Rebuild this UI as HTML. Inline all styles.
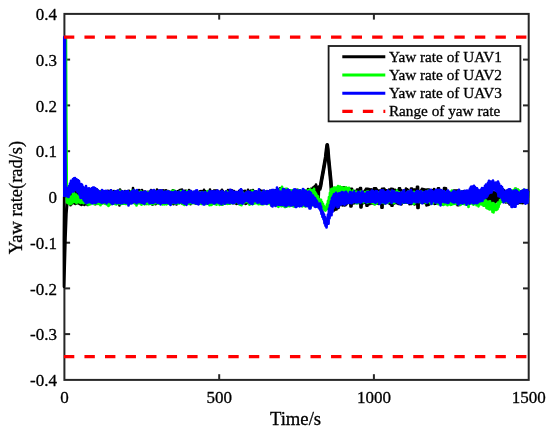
<!DOCTYPE html>
<html><head><meta charset="utf-8"><title>Yaw rate</title>
<style>
html,body{margin:0;padding:0;background:#fff;}
body{width:550px;height:433px;overflow:hidden;}
svg{display:block;}
text{font-family:"Liberation Serif","Times New Roman",serif;fill:#000;stroke:#000;stroke-width:0.3px;}
.tick{font-size:17px;}
.lab{font-size:18.7px;}
.leg{font-size:15.25px;fill:#000;}
.sig{fill:none;stroke-linejoin:round;stroke-linecap:butt;}
</style></head><body>
<svg width="550" height="433" viewBox="0 0 550 433">
<rect width="550" height="433" fill="#ffffff"/>
<!-- axes box -->
<g stroke="#262626" stroke-width="2" fill="none">
<rect x="64.4" y="13.9" width="464.3" height="366.0"/>
<line x1="219.2" y1="379.9" x2="219.2" y2="374.2"/>
<line x1="219.2" y1="13.9" x2="219.2" y2="19.6"/>
<line x1="373.9" y1="379.9" x2="373.9" y2="374.2"/>
<line x1="373.9" y1="13.9" x2="373.9" y2="19.6"/>
<line x1="64.4" y1="59.6" x2="70.1" y2="59.6"/>
<line x1="528.7" y1="59.6" x2="523.0" y2="59.6"/>
<line x1="64.4" y1="105.4" x2="70.1" y2="105.4"/>
<line x1="528.7" y1="105.4" x2="523.0" y2="105.4"/>
<line x1="64.4" y1="151.2" x2="70.1" y2="151.2"/>
<line x1="528.7" y1="151.2" x2="523.0" y2="151.2"/>
<line x1="64.4" y1="196.9" x2="70.1" y2="196.9"/>
<line x1="528.7" y1="196.9" x2="523.0" y2="196.9"/>
<line x1="64.4" y1="242.7" x2="70.1" y2="242.7"/>
<line x1="528.7" y1="242.7" x2="523.0" y2="242.7"/>
<line x1="64.4" y1="288.4" x2="70.1" y2="288.4"/>
<line x1="528.7" y1="288.4" x2="523.0" y2="288.4"/>
<line x1="64.4" y1="334.1" x2="70.1" y2="334.1"/>
<line x1="528.7" y1="334.1" x2="523.0" y2="334.1"/>
</g>
<!-- signals -->
<polyline class="sig" stroke="#000000" stroke-width="2.7" points="64.2,196.7 63.9,240.0 64.0,286.8 64.6,270.0 65.5,238.0 66.4,214.0 67.2,204.0 68.0,197.0 68.0,194.0 68.5,201.9 69.0,193.6 69.5,203.0 70.0,191.5 70.5,205.2 71.0,192.0 71.5,204.1 72.0,191.9 72.5,202.8 73.0,192.4 73.5,202.8 74.0,192.3 74.5,203.5 75.0,191.8 75.5,204.0 76.0,192.2 76.5,203.4 77.0,191.7 77.5,202.3 78.0,190.8 78.5,203.2 79.0,190.7 79.5,204.0 80.0,189.8 80.5,204.5 81.0,190.0 81.5,204.9 82.0,190.3 82.5,204.0 83.0,191.7 83.5,204.3 84.0,191.4 84.5,205.0 85.0,192.0 85.5,203.3 86.0,192.2 86.5,203.1 87.0,191.6 87.5,204.9 88.0,191.7 88.5,203.2 89.0,191.8 89.5,203.7 90.0,190.2 90.5,202.7 91.0,190.0 91.5,202.2 92.0,191.5 92.5,202.6 93.0,192.6 93.5,202.4 94.0,192.7 94.5,203.0 95.0,192.0 95.5,204.1 96.0,190.0 96.5,202.7 97.0,189.5 97.5,202.1 98.0,191.2 98.5,202.4 99.0,191.3 99.5,202.5 100.0,191.3 100.5,203.1 101.0,191.6 101.5,202.2 102.0,191.8 102.5,203.1 103.0,192.2 103.5,202.7 104.0,192.0 104.5,201.5 105.0,191.4 105.5,202.0 106.0,191.5 106.5,203.2 107.0,191.5 107.5,202.7 108.0,190.9 108.5,201.9 109.0,191.2 109.5,202.0 110.0,191.6 110.5,203.2 111.0,190.4 111.5,204.0 112.0,191.9 112.5,203.2 113.0,192.6 113.5,201.9 114.0,191.2 114.5,202.2 115.0,192.6 115.5,203.5 116.0,191.4 116.5,202.2 117.0,191.1 117.5,202.9 118.0,191.0 118.5,202.7 119.0,191.5 119.5,205.5 120.0,189.6 120.5,203.3 121.0,190.9 121.5,203.0 122.0,191.3 122.5,203.2 123.0,192.3 123.5,201.5 124.0,193.1 124.5,202.8 125.0,191.1 125.5,203.4 126.0,192.4 126.5,203.4 127.0,191.8 127.5,202.0 128.0,191.1 128.5,202.1 129.0,190.9 129.5,202.4 130.0,191.7 130.5,201.8 131.0,192.0 131.5,201.5 132.0,191.1 132.5,201.9 133.0,188.2 133.5,202.5 134.0,190.9 134.5,201.4 135.0,192.1 135.5,201.7 136.0,193.0 136.5,203.6 137.0,192.4 137.5,203.3 138.0,190.7 138.5,201.4 139.0,190.2 139.5,202.4 140.0,190.5 140.5,203.3 141.0,191.0 141.5,202.3 142.0,190.0 142.5,201.0 143.0,191.6 143.5,201.8 144.0,191.8 144.5,202.2 145.0,191.5 145.5,203.0 146.0,193.4 146.5,204.0 147.0,193.3 147.5,203.0 148.0,191.9 148.5,202.3 149.0,192.2 149.5,203.7 150.0,191.6 150.5,202.6 151.0,190.2 151.5,201.7 152.0,190.5 152.5,204.7 153.0,191.3 153.5,203.4 154.0,192.2 154.5,201.3 155.0,191.8 155.5,204.2 156.0,191.0 156.5,203.4 157.0,189.6 157.5,202.0 158.0,191.4 158.5,201.6 159.0,190.8 159.5,202.0 160.0,190.6 160.5,202.8 161.0,190.7 161.5,202.9 162.0,190.9 162.5,201.8 163.0,190.4 163.5,202.4 164.0,191.6 164.5,202.5 165.0,190.5 165.5,202.1 166.0,190.4 166.5,202.0 167.0,190.9 167.5,201.1 168.0,191.2 168.5,202.3 169.0,191.6 169.5,203.5 170.0,192.3 170.5,203.7 171.0,192.3 171.5,203.6 172.0,191.9 172.5,203.4 173.0,190.4 173.5,204.1 174.0,191.3 174.5,203.5 175.0,191.0 175.5,203.0 176.0,192.7 176.5,204.4 177.0,191.8 177.5,202.7 178.0,191.2 178.5,202.7 179.0,190.5 179.5,202.6 180.0,190.2 180.5,202.6 181.0,189.8 181.5,202.9 182.0,189.5 182.5,203.6 183.0,191.9 183.5,203.9 184.0,192.4 184.5,203.5 185.0,190.9 185.5,203.0 186.0,190.8 186.5,203.1 187.0,191.4 187.5,202.2 188.0,191.2 188.5,201.4 189.0,190.0 189.5,202.7 190.0,190.9 190.5,204.1 191.0,192.4 191.5,201.4 192.0,192.2 192.5,200.7 193.0,192.6 193.5,201.8 194.0,192.5 194.5,202.0 195.0,192.7 195.5,203.4 196.0,192.6 196.5,202.6 197.0,192.2 197.5,201.3 198.0,192.2 198.5,201.9 199.0,191.9 199.5,203.5 200.0,191.3 200.5,202.3 201.0,191.1 201.5,202.8 202.0,191.5 202.5,202.1 203.0,191.0 203.5,202.2 204.0,189.8 204.5,202.0 205.0,191.2 205.5,201.4 206.0,191.8 206.5,200.7 207.0,191.8 207.5,201.5 208.0,192.3 208.5,202.2 209.0,191.8 209.5,203.3 210.0,189.7 210.5,204.3 211.0,192.0 211.5,202.6 212.0,191.6 212.5,202.5 213.0,191.1 213.5,201.0 214.0,190.7 214.5,201.2 215.0,190.6 215.5,202.6 216.0,190.6 216.5,202.8 217.0,190.5 217.5,201.7 218.0,191.0 218.5,201.5 219.0,192.3 219.5,200.8 220.0,191.8 220.5,200.5 221.0,190.8 221.5,202.0 222.0,189.8 222.5,204.1 223.0,191.2 223.5,202.9 224.0,192.3 224.5,202.4 225.0,192.4 225.5,203.2 226.0,191.5 226.5,203.0 227.0,191.0 227.5,202.9 228.0,190.2 228.5,202.9 229.0,191.5 229.5,203.7 230.0,193.0 230.5,202.7 231.0,190.1 231.5,202.7 232.0,190.4 232.5,202.5 233.0,192.1 233.5,203.2 234.0,191.2 234.5,202.9 235.0,192.0 235.5,203.1 236.0,192.1 236.5,204.0 237.0,192.3 237.5,203.4 238.0,192.2 238.5,202.4 239.0,191.2 239.5,200.6 240.0,190.0 240.5,202.6 241.0,189.6 241.5,203.2 242.0,191.7 242.5,202.8 243.0,192.3 243.5,201.4 244.0,191.0 244.5,201.7 245.0,190.9 245.5,203.9 246.0,193.5 246.5,203.4 247.0,192.5 247.5,202.4 248.0,189.9 248.5,202.5 249.0,191.5 249.5,203.6 250.0,191.4 250.5,202.3 251.0,190.5 251.5,203.3 252.0,191.1 252.5,203.1 253.0,190.2 253.5,201.4 254.0,191.7 254.5,202.1 255.0,192.0 255.5,201.0 256.0,191.4 256.5,201.0 257.0,192.4 257.5,202.0 258.0,192.3 258.5,202.0 259.0,191.0 259.5,203.4 260.0,190.2 260.5,202.9 261.0,191.3 261.5,202.5 262.0,190.9 262.5,202.7 263.0,191.6 263.5,202.1 264.0,191.0 264.5,200.7 265.0,191.4 265.5,202.4 266.0,192.1 266.5,202.9 267.0,192.4 267.5,202.7 268.0,191.6 268.5,202.1 269.0,191.3 269.5,202.0 270.0,190.8 270.5,202.1 271.0,191.3 271.5,203.2 272.0,191.6 272.5,202.4 273.0,192.7 273.5,201.9 274.0,193.0 274.5,202.7 275.0,191.5 275.5,202.7 276.0,190.3 276.5,203.6 277.0,191.1 277.5,203.4 278.0,190.3 278.5,202.4 279.0,190.3 279.5,201.8 280.0,188.3 280.5,202.2 281.0,190.6 281.5,203.5 282.0,191.7 282.5,203.4 283.0,191.6 283.5,202.6 284.0,190.9 284.5,203.1 285.0,190.5 285.5,203.6 286.0,191.6 286.5,202.4 287.0,190.7 287.5,202.7 288.0,190.0 288.5,202.5 289.0,190.8 289.5,202.6 290.0,190.7 290.5,203.0 291.0,192.2 291.5,203.6 292.0,191.3 292.5,203.5 293.0,191.0 293.5,204.2 294.0,191.5 294.5,203.6 295.0,192.7 295.5,205.9 296.0,191.2 296.5,204.6 297.0,189.8 297.5,202.0 298.0,191.0 298.5,202.2 299.0,192.2 299.5,203.0 300.0,190.4 300.5,202.4 301.0,191.1 301.5,201.8 302.0,191.6 302.5,201.8 303.0,191.3 303.5,202.5 304.0,191.8 304.5,202.1 305.0,191.9 305.5,203.2 306.0,191.0 306.5,202.7 307.0,190.8 307.5,202.3 308.0,189.2 308.5,202.7 309.0,190.0 309.5,202.1 310.0,189.7 310.5,200.0 311.0,188.9 311.5,200.9 312.0,189.3 312.5,201.3 313.0,187.5 313.5,202.6 314.0,186.8 314.5,203.0 315.0,186.0 315.5,200.9 316.0,184.6 316.5,201.5 317.0,186.8 317.5,201.1 318.0,186.9 318.5,201.8 319.0,186.6 319.5,190.0 320.6,186.0 321.4,181.0 323.6,169.0 325.7,157.0 326.6,149.0 327.2,144.8 327.8,149.0 328.5,158.0 329.7,170.0 330.8,181.0 331.6,192.0 332.6,203.0 334.0,210.5 334.0,202.2 334.5,210.0 335.0,199.1 335.5,209.5 336.0,194.7 336.5,209.5 337.0,192.0 337.5,208.0 338.0,192.0 338.5,207.9 339.0,191.7 339.5,205.4 340.0,189.5 340.5,204.3 341.0,190.5 341.5,204.3 342.0,187.6 342.5,205.4 343.0,187.5 343.5,205.1 344.0,187.4 344.5,205.5 345.0,189.9 345.5,205.1 346.0,189.6 346.5,204.1 347.0,189.7 347.5,202.5 348.0,190.2 348.5,202.8 349.0,190.2 349.5,203.0 350.0,189.4 350.5,206.5 351.0,188.9 351.5,206.3 352.0,188.9 352.5,202.9 353.0,191.0 353.5,203.3 354.0,191.2 354.5,203.1 355.0,191.0 355.5,201.5 356.0,191.0 356.5,202.7 357.0,189.7 357.5,203.0 358.0,189.5 358.5,201.9 359.0,190.6 359.5,203.1 360.0,188.2 360.5,207.3 361.0,188.2 361.5,207.3 362.0,192.5 362.5,203.7 363.0,192.5 363.5,202.7 364.0,191.6 364.5,202.8 365.0,190.3 365.5,201.0 366.0,188.9 366.5,205.6 367.0,188.9 367.5,205.6 368.0,188.9 368.5,203.8 369.0,189.2 369.5,204.2 370.0,190.7 370.5,203.3 371.0,189.4 371.5,203.3 372.0,190.5 372.5,203.3 373.0,189.5 373.5,201.1 374.0,188.4 374.5,204.0 375.0,188.4 375.5,204.0 376.0,188.4 376.5,203.4 377.0,189.7 377.5,203.6 378.0,190.5 378.5,203.8 379.0,190.6 379.5,203.1 380.0,190.5 380.5,202.9 381.0,190.7 381.5,207.6 382.0,188.9 382.5,207.6 383.0,188.9 383.5,203.0 384.0,188.5 384.5,203.2 385.0,189.7 385.5,203.1 386.0,190.0 386.5,202.7 387.0,190.7 387.5,201.7 388.0,190.8 388.5,202.4 389.0,189.6 389.5,203.7 390.0,190.9 390.5,204.2 391.0,188.9 391.5,205.7 392.0,188.9 392.5,205.7 393.0,189.0 393.5,203.5 394.0,190.8 394.5,203.3 395.0,189.8 395.5,202.6 396.0,190.5 396.5,203.0 397.0,192.0 397.5,203.4 398.0,190.0 398.5,203.9 399.0,188.3 399.5,203.9 400.0,188.3 400.5,203.2 401.0,190.0 401.5,204.3 402.0,190.6 402.5,202.6 403.0,190.9 403.5,202.1 404.0,190.6 404.5,202.6 405.0,190.0 405.5,202.6 406.0,188.6 406.5,202.4 407.0,189.2 407.5,202.5 408.0,189.9 408.5,202.1 409.0,191.3 409.5,204.1 410.0,191.3 410.5,203.9 411.0,188.5 411.5,203.9 412.0,188.5 412.5,202.7 413.0,190.1 413.5,203.2 414.0,189.6 414.5,204.3 415.0,189.5 415.5,203.9 416.0,190.4 416.5,204.2 417.0,186.9 417.5,207.9 418.0,186.9 418.5,207.9 419.0,191.8 419.5,202.3 420.0,191.8 420.5,202.0 421.0,190.3 421.5,202.4 422.0,188.8 422.5,203.0 423.0,189.0 423.5,202.3 424.0,189.3 424.5,203.0 425.0,189.7 425.5,202.9 426.0,191.0 426.5,205.5 427.0,189.5 427.5,204.8 428.0,189.5 428.5,204.8 429.0,189.5 429.5,204.3 430.0,191.5 430.5,202.9 431.0,190.8 431.5,202.5 432.0,190.6 432.5,201.7 433.0,190.2 433.5,201.9 434.0,189.0 434.5,203.9 435.0,190.5 435.5,203.6 436.0,190.7 436.5,202.9 437.0,190.9 437.5,203.2 438.0,188.3 438.5,203.3 439.0,188.3 439.5,203.3 440.0,190.6 440.5,202.5 441.0,191.5 441.5,202.6 442.0,191.5 442.5,204.4 443.0,191.1 443.5,203.5 444.0,188.2 444.5,203.7 445.0,188.2 445.5,203.7 446.0,188.3 446.5,203.8 447.0,191.2 447.5,202.8 448.0,192.1 448.5,202.5 449.0,192.3 449.5,202.3 450.0,192.5 450.5,203.0 451.0,192.3 451.5,203.1 452.0,191.5 452.5,203.3 453.0,191.1 453.5,203.1 454.0,190.5 454.5,202.3 455.0,190.5 455.5,201.8 456.0,190.5 456.5,203.1 457.0,190.6 457.5,205.2 458.0,190.6 458.5,205.2 459.0,190.6 459.5,203.3 460.0,192.3 460.5,201.6 461.0,193.4 461.5,202.6 462.0,193.4 462.5,203.1 463.0,191.3 463.5,203.3 464.0,191.0 464.5,201.8 465.0,192.5 465.5,202.3 466.0,191.9 466.5,203.9 467.0,192.2 467.5,202.6 468.0,192.9 468.5,203.3 469.0,191.0 469.5,202.8 470.0,190.3 470.5,202.7 471.0,191.2 471.5,202.3 472.0,191.6 472.5,202.6 473.0,191.2 473.5,201.9 474.0,193.0 474.5,202.1 475.0,192.8 475.5,203.7 476.0,191.5 476.5,202.4 477.0,191.1 477.5,201.3 478.0,192.1 478.5,202.8 479.0,191.7 479.5,203.5 480.0,191.0 480.5,202.9 481.0,191.4 481.5,202.2 482.0,192.7 482.5,202.0 483.0,192.8 483.5,202.6 484.0,191.2 484.5,202.3 485.0,191.2 485.5,202.1 486.0,192.5 486.5,202.5 487.0,192.0 487.5,201.6 488.0,193.3 488.5,200.7 489.0,193.5 489.5,200.7 490.0,191.4 490.5,202.1 491.0,190.2 491.5,200.7 492.0,190.4 492.5,201.1 493.0,192.7 493.5,200.8 494.0,192.3 494.5,201.7 495.0,192.2 495.5,202.3 496.0,191.9 496.5,201.0 497.0,190.7 497.5,201.0 498.0,191.8 498.5,200.5 499.0,192.7 499.5,201.0 500.0,192.5 500.5,200.4 501.0,191.5 501.5,199.9 502.0,190.6 502.5,200.6 503.0,190.4 503.5,200.9 504.0,190.4 504.5,201.2 505.0,191.1 505.5,202.3 506.0,192.4 506.5,202.1 507.0,190.9 507.5,202.5 508.0,190.8 508.5,202.4 509.0,191.2 509.5,204.3 510.0,191.4 510.5,203.6 511.0,191.5 511.5,203.4 512.0,191.0 512.5,203.1 513.0,191.8 513.5,202.8 514.0,190.4 514.5,202.9 515.0,190.3 515.5,203.0 516.0,188.8 516.5,202.3 517.0,190.6 517.5,203.1 518.0,190.1 518.5,203.1 519.0,192.1 519.5,202.5 520.0,192.3 520.5,202.8 521.0,192.3 521.5,203.0 522.0,191.6 522.5,203.2 523.0,190.6 523.5,203.0 524.0,190.3 524.5,202.4 525.0,190.4 525.5,202.1 526.0,191.8 526.5,202.0 527.0,191.1 527.5,202.8 528.0,190.6"/>
<polyline class="sig" stroke="#000000" stroke-width="3.7" points="319.5,190.0 320.6,186.0 321.4,181.0 323.6,169.0 325.7,157.0 326.6,149.0 327.2,144.8 327.8,149.0 328.5,158.0 329.7,170.0 330.8,181.0 331.6,192.0 332.6,203.0 334.0,210.5"/>
<polyline class="sig" stroke="#00ff00" stroke-width="2.7" points="64.9,37.2 65.9,37.2 66.3,120.0 66.8,196.0 67.0,202.2 67.5,202.8 68.0,200.7 68.5,203.0 69.0,198.6 69.5,204.1 70.0,196.5 70.5,204.0 71.0,196.5 71.5,203.3 72.0,196.3 72.5,202.4 73.0,192.4 73.5,201.8 74.0,193.1 74.5,201.3 75.0,195.5 75.5,201.9 76.0,194.6 76.5,203.1 77.0,195.7 77.5,202.0 78.0,195.8 78.5,201.6 79.0,197.5 79.5,202.4 80.0,199.4 80.5,202.9 81.0,200.0 81.5,202.5 82.0,198.0 82.5,202.5 83.0,195.8 83.5,203.1 84.0,195.3 84.5,202.3 85.0,194.6 85.5,202.2 86.0,194.1 86.5,202.9 87.0,194.2 87.5,203.8 88.0,194.0 88.5,205.0 89.0,192.7 89.5,203.5 90.0,192.0 90.5,204.1 91.0,192.9 91.5,202.9 92.0,193.6 92.5,202.6 93.0,194.3 93.5,203.1 94.0,193.0 94.5,204.1 95.0,192.1 95.5,202.8 96.0,192.4 96.5,203.2 97.0,192.0 97.5,203.8 98.0,192.2 98.5,202.2 99.0,193.2 99.5,204.1 100.0,191.6 100.5,205.1 101.0,192.5 101.5,203.7 102.0,192.0 102.5,202.7 103.0,192.7 103.5,202.1 104.0,192.9 104.5,203.4 105.0,193.6 105.5,203.9 106.0,191.7 106.5,203.7 107.0,192.6 107.5,204.9 108.0,193.8 108.5,206.0 109.0,192.6 109.5,205.0 110.0,193.8 110.5,203.2 111.0,193.2 111.5,203.4 112.0,191.9 112.5,203.8 113.0,192.4 113.5,203.5 114.0,192.9 114.5,202.8 115.0,192.0 115.5,204.1 116.0,192.3 116.5,204.3 117.0,191.6 117.5,203.2 118.0,192.5 118.5,203.0 119.0,191.2 119.5,203.7 120.0,190.9 120.5,204.3 121.0,193.8 121.5,203.3 122.0,193.6 122.5,203.6 123.0,193.1 123.5,203.6 124.0,193.0 124.5,202.6 125.0,193.1 125.5,204.0 126.0,191.9 126.5,203.9 127.0,192.1 127.5,202.9 128.0,192.2 128.5,202.2 129.0,194.0 129.5,203.6 130.0,193.8 130.5,203.0 131.0,191.3 131.5,201.9 132.0,190.8 132.5,201.8 133.0,191.4 133.5,202.9 134.0,191.2 134.5,203.2 135.0,190.9 135.5,203.9 136.0,192.9 136.5,205.5 137.0,193.2 137.5,203.7 138.0,192.0 138.5,202.7 139.0,193.1 139.5,202.2 140.0,191.9 140.5,203.6 141.0,191.4 141.5,204.6 142.0,192.6 142.5,203.0 143.0,192.6 143.5,202.7 144.0,193.4 144.5,204.3 145.0,193.3 145.5,203.8 146.0,192.6 146.5,202.0 147.0,193.0 147.5,203.8 148.0,192.4 148.5,204.1 149.0,193.1 149.5,204.0 150.0,192.7 150.5,203.4 151.0,192.5 151.5,204.0 152.0,192.6 152.5,204.1 153.0,193.1 153.5,204.0 154.0,192.2 154.5,203.2 155.0,192.4 155.5,203.2 156.0,191.9 156.5,202.9 157.0,193.1 157.5,202.8 158.0,193.4 158.5,203.7 159.0,192.6 159.5,203.3 160.0,192.8 160.5,203.0 161.0,191.6 161.5,203.0 162.0,192.6 162.5,204.4 163.0,191.9 163.5,203.6 164.0,192.4 164.5,204.3 165.0,193.3 165.5,203.6 166.0,192.6 166.5,204.3 167.0,191.5 167.5,203.6 168.0,191.3 168.5,203.2 169.0,193.2 169.5,202.6 170.0,192.6 170.5,203.4 171.0,191.9 171.5,203.4 172.0,190.9 172.5,203.2 173.0,191.8 173.5,202.0 174.0,190.6 174.5,202.8 175.0,191.5 175.5,203.7 176.0,191.8 176.5,203.0 177.0,192.6 177.5,203.3 178.0,192.6 178.5,203.4 179.0,192.2 179.5,203.3 180.0,191.7 180.5,201.7 181.0,191.2 181.5,202.1 182.0,192.6 182.5,203.8 183.0,194.1 183.5,204.1 184.0,193.9 184.5,205.0 185.0,194.0 185.5,203.7 186.0,192.0 186.5,203.6 187.0,191.1 187.5,203.2 188.0,192.1 188.5,203.8 189.0,192.8 189.5,203.4 190.0,192.3 190.5,202.7 191.0,192.0 191.5,203.3 192.0,192.0 192.5,202.5 193.0,192.9 193.5,203.1 194.0,193.7 194.5,203.0 195.0,192.2 195.5,203.1 196.0,192.3 196.5,203.5 197.0,193.0 197.5,203.2 198.0,192.6 198.5,202.9 199.0,193.9 199.5,202.5 200.0,192.5 200.5,203.3 201.0,192.3 201.5,204.0 202.0,193.0 202.5,203.4 203.0,192.6 203.5,202.8 204.0,193.1 204.5,203.8 205.0,192.5 205.5,203.7 206.0,192.7 206.5,203.8 207.0,191.6 207.5,202.9 208.0,191.2 208.5,203.9 209.0,192.3 209.5,205.1 210.0,192.1 210.5,203.9 211.0,192.4 211.5,205.0 212.0,192.6 212.5,204.0 213.0,193.1 213.5,203.5 214.0,192.3 214.5,204.0 215.0,192.9 215.5,203.7 216.0,193.5 216.5,204.7 217.0,194.0 217.5,202.7 218.0,193.4 218.5,202.4 219.0,192.9 219.5,204.8 220.0,193.3 220.5,202.4 221.0,193.4 221.5,204.4 222.0,193.2 222.5,204.7 223.0,193.0 223.5,203.6 224.0,192.7 224.5,203.1 225.0,192.8 225.5,203.4 226.0,192.2 226.5,202.8 227.0,191.7 227.5,203.8 228.0,192.1 228.5,203.5 229.0,193.6 229.5,203.6 230.0,194.1 230.5,202.7 231.0,194.5 231.5,202.9 232.0,193.4 232.5,203.2 233.0,193.2 233.5,202.8 234.0,193.5 234.5,202.3 235.0,193.5 235.5,202.4 236.0,193.3 236.5,201.6 237.0,193.0 237.5,201.7 238.0,192.7 238.5,203.3 239.0,194.4 239.5,204.4 240.0,193.1 240.5,204.7 241.0,191.7 241.5,205.2 242.0,192.1 242.5,203.8 243.0,192.5 243.5,202.7 244.0,194.2 244.5,202.5 245.0,194.2 245.5,201.7 246.0,193.0 246.5,201.9 247.0,193.3 247.5,202.1 248.0,193.4 248.5,202.5 249.0,193.8 249.5,204.6 250.0,194.3 250.5,203.3 251.0,192.7 251.5,202.0 252.0,190.8 252.5,204.1 253.0,191.2 253.5,203.6 254.0,192.3 254.5,203.4 255.0,194.0 255.5,202.8 256.0,193.7 256.5,203.1 257.0,193.8 257.5,202.7 258.0,193.8 258.5,204.1 259.0,192.6 259.5,203.9 260.0,192.4 260.5,203.1 261.0,192.7 261.5,204.2 262.0,193.6 262.5,204.1 263.0,193.2 263.5,204.1 264.0,192.0 264.5,202.4 265.0,191.5 265.5,202.2 266.0,191.3 266.5,202.6 267.0,193.2 267.5,204.0 268.0,193.1 268.5,203.3 269.0,193.4 269.5,203.0 270.0,193.9 270.5,204.5 271.0,191.2 271.5,205.4 272.0,191.2 272.5,203.5 273.0,191.7 273.5,203.5 274.0,193.0 274.5,205.0 275.0,193.2 275.5,205.1 276.0,192.0 276.5,205.4 277.0,191.1 277.5,206.1 278.0,191.4 278.5,206.8 279.0,190.6 279.5,204.6 280.0,189.2 280.5,205.1 281.0,188.8 281.5,206.2 282.0,186.8 282.5,205.7 283.0,189.9 283.5,204.7 284.0,190.2 284.5,206.8 285.0,189.3 285.5,207.0 286.0,188.8 286.5,206.7 287.0,188.8 287.5,205.3 288.0,191.3 288.5,206.0 289.0,191.9 289.5,206.2 290.0,190.6 290.5,204.5 291.0,190.9 291.5,203.8 292.0,190.3 292.5,206.0 293.0,191.6 293.5,206.3 294.0,191.1 294.5,206.5 295.0,190.9 295.5,205.6 296.0,191.3 296.5,205.2 297.0,190.9 297.5,204.5 298.0,189.9 298.5,205.1 299.0,190.3 299.5,203.9 300.0,190.4 300.5,204.4 301.0,191.1 301.5,206.0 302.0,190.7 302.5,206.3 303.0,189.4 303.5,205.7 304.0,191.0 304.5,205.6 305.0,190.9 305.5,206.4 306.0,190.6 306.5,205.5 307.0,190.7 307.5,205.6 308.0,190.9 308.5,205.8 309.0,190.0 309.5,205.9 310.0,189.3 310.5,207.0 311.0,190.0 311.5,205.5 312.0,190.8 312.5,205.1 313.0,190.0 313.5,204.0 314.0,188.9 314.5,204.3 315.0,192.1 315.5,204.4 316.0,193.5 316.5,204.7 317.0,195.7 317.5,205.4 318.0,196.3 318.5,206.2 319.0,199.2 319.5,206.2 320.0,199.7 320.5,208.1 321.0,199.8 321.5,206.7 322.0,202.1 322.5,207.0 323.0,203.8 323.5,208.9 324.0,206.1 324.5,210.0 325.0,209.1 325.5,210.5 326.0,209.2 326.5,209.0 327.0,204.3 327.5,209.0 328.0,200.9 328.5,206.8 329.0,197.1 329.5,206.6 330.0,192.9 330.5,205.0 331.0,189.3 331.5,202.2 332.0,188.8 332.5,201.1 333.0,189.1 333.5,203.3 334.0,187.5 334.5,202.7 335.0,187.7 335.5,204.6 336.0,188.7 336.5,203.0 337.0,187.3 337.5,201.1 338.0,186.2 338.5,202.7 339.0,187.3 339.5,201.8 340.0,186.7 340.5,200.1 341.0,187.4 341.5,201.7 342.0,187.4 342.5,199.8 343.0,187.9 343.5,200.3 344.0,187.8 344.5,201.2 345.0,189.3 345.5,201.3 346.0,187.3 346.5,201.8 347.0,188.4 347.5,201.2 348.0,188.0 348.5,200.9 349.0,187.8 349.5,200.4 350.0,190.2 350.5,199.5 351.0,192.3 351.5,200.1 352.0,192.2 352.5,201.6 353.0,190.7 353.5,202.2 354.0,192.0 354.5,200.5 355.0,193.4 355.5,201.4 356.0,191.6 356.5,203.4 357.0,191.9 357.5,202.9 358.0,193.3 358.5,202.4 359.0,194.3 359.5,201.8 360.0,191.9 360.5,200.4 361.0,191.5 361.5,199.7 362.0,192.8 362.5,201.0 363.0,193.1 363.5,202.5 364.0,193.0 364.5,201.3 365.0,192.0 365.5,201.2 366.0,192.5 366.5,201.1 367.0,191.6 367.5,202.7 368.0,191.6 368.5,201.5 369.0,193.9 369.5,202.0 370.0,192.1 370.5,201.2 371.0,192.9 371.5,202.2 372.0,193.6 372.5,202.8 373.0,192.3 373.5,202.7 374.0,192.6 374.5,204.5 375.0,192.7 375.5,203.2 376.0,192.4 376.5,203.6 377.0,192.8 377.5,201.2 378.0,192.4 378.5,200.1 379.0,192.6 379.5,201.8 380.0,192.7 380.5,202.4 381.0,192.2 381.5,202.4 382.0,193.3 382.5,201.4 383.0,193.3 383.5,203.0 384.0,192.0 384.5,203.3 385.0,193.5 385.5,202.9 386.0,193.7 386.5,200.9 387.0,193.3 387.5,202.9 388.0,192.9 388.5,202.5 389.0,192.5 389.5,200.6 390.0,191.8 390.5,200.9 391.0,192.2 391.5,200.7 392.0,193.0 392.5,201.9 393.0,191.7 393.5,203.2 394.0,192.0 394.5,202.8 395.0,192.2 395.5,201.4 396.0,191.8 396.5,201.7 397.0,190.5 397.5,201.3 398.0,193.0 398.5,201.4 399.0,192.4 399.5,202.7 400.0,193.8 400.5,202.5 401.0,194.9 401.5,201.9 402.0,192.2 402.5,202.5 403.0,191.7 403.5,202.6 404.0,193.2 404.5,201.1 405.0,193.5 405.5,202.3 406.0,193.9 406.5,200.4 407.0,193.2 407.5,201.7 408.0,191.7 408.5,201.4 409.0,191.6 409.5,202.1 410.0,192.9 410.5,201.6 411.0,194.0 411.5,201.6 412.0,193.4 412.5,201.8 413.0,193.3 413.5,204.0 414.0,191.8 414.5,203.4 415.0,192.1 415.5,202.1 416.0,192.8 416.5,200.6 417.0,192.6 417.5,199.5 418.0,193.5 418.5,201.3 419.0,193.4 419.5,202.0 420.0,193.0 420.5,201.1 421.0,193.1 421.5,202.9 422.0,191.8 422.5,202.1 423.0,194.1 423.5,200.3 424.0,192.7 424.5,201.2 425.0,193.1 425.5,202.8 426.0,193.9 426.5,201.6 427.0,194.4 427.5,201.6 428.0,190.8 428.5,201.5 429.0,193.1 429.5,201.8 430.0,194.0 430.5,203.5 431.0,193.4 431.5,202.7 432.0,193.3 432.5,203.3 433.0,192.8 433.5,202.4 434.0,192.6 434.5,201.0 435.0,192.7 435.5,200.7 436.0,192.6 436.5,202.5 437.0,192.3 437.5,202.9 438.0,191.6 438.5,204.2 439.0,192.8 439.5,203.0 440.0,193.5 440.5,201.6 441.0,194.1 441.5,204.0 442.0,192.7 442.5,203.9 443.0,193.3 443.5,205.0 444.0,193.1 444.5,203.8 445.0,192.8 445.5,204.2 446.0,192.4 446.5,203.4 447.0,192.7 447.5,205.1 448.0,193.3 448.5,204.1 449.0,192.7 449.5,204.0 450.0,192.0 450.5,204.8 451.0,191.5 451.5,204.7 452.0,190.5 452.5,204.0 453.0,193.8 453.5,204.0 454.0,193.3 454.5,202.5 455.0,191.8 455.5,204.0 456.0,192.4 456.5,202.2 457.0,193.8 457.5,202.5 458.0,193.8 458.5,203.7 459.0,192.1 459.5,204.9 460.0,191.6 460.5,205.0 461.0,193.6 461.5,203.0 462.0,191.3 462.5,203.6 463.0,192.2 463.5,203.4 464.0,192.8 464.5,204.1 465.0,192.0 465.5,204.2 466.0,191.8 466.5,204.2 467.0,192.9 467.5,205.0 468.0,191.4 468.5,207.0 469.0,192.5 469.5,203.8 470.0,192.7 470.5,203.3 471.0,192.7 471.5,202.9 472.0,192.2 472.5,204.0 473.0,192.6 473.5,204.7 474.0,190.5 474.5,203.4 475.0,189.4 475.5,203.6 476.0,192.5 476.5,205.1 477.0,192.8 477.5,204.7 478.0,193.5 478.5,206.3 479.0,194.2 479.5,204.2 480.0,194.0 480.5,203.8 481.0,195.5 481.5,204.3 482.0,197.9 482.5,204.2 483.0,197.7 483.5,205.7 484.0,198.5 484.5,205.7 485.0,200.0 485.5,205.3 486.0,200.7 486.5,207.8 487.0,201.6 487.5,208.3 488.0,201.9 488.5,208.7 489.0,201.7 489.5,209.5 490.0,201.4 490.5,208.8 491.0,203.3 491.5,209.1 492.0,203.6 492.5,212.0 493.0,203.0 493.5,212.3 494.0,203.6 494.5,209.8 495.0,204.6 495.5,209.8 496.0,206.0 496.5,209.9 497.0,204.7 497.5,209.1 498.0,202.6 498.5,207.2 499.0,202.3 499.5,204.1 500.0,200.1 500.5,202.1 501.0,199.2 501.5,201.8 502.0,197.5 502.5,201.4 503.0,196.1 503.5,201.7 504.0,193.6 504.5,201.4 505.0,194.2 505.5,200.5 506.0,192.4 506.5,201.6 507.0,191.5 507.5,200.9 508.0,193.5 508.5,200.3 509.0,193.5 509.5,200.5 510.0,193.4 510.5,201.3 511.0,193.0 511.5,202.1 512.0,191.4 512.5,201.4 513.0,190.6 513.5,202.6 514.0,191.4 514.5,201.1 515.0,188.6 515.5,201.3 516.0,189.2 516.5,202.6 517.0,189.5 517.5,201.5 518.0,189.7 518.5,201.0 519.0,190.5 519.5,200.9 520.0,191.3 520.5,200.8 521.0,192.1 521.5,202.0 522.0,190.8 522.5,201.3 523.0,191.5 523.5,200.0 524.0,190.7 524.5,200.2 525.0,189.9 525.5,202.3 526.0,190.9 526.5,201.5 527.0,191.9 527.5,202.0 528.0,192.1"/>
<polyline class="sig" stroke="#0000ff" stroke-width="2.7" points="64.3,197.0 64.3,37.2 65.0,37.2 65.2,120.0 65.6,190.0 66.0,191.7 66.5,195.8 67.0,190.4 67.5,196.5 68.0,187.9 68.5,196.9 69.0,186.1 69.5,194.8 70.0,183.7 70.5,193.0 71.0,180.9 71.5,190.7 72.0,180.8 72.5,191.4 73.0,179.2 73.5,191.4 74.0,178.3 74.5,188.4 75.0,178.2 75.5,189.6 76.0,179.0 76.5,190.5 77.0,179.7 77.5,191.6 78.0,180.0 78.5,192.4 79.0,181.2 79.5,194.8 80.0,184.1 80.5,197.8 81.0,184.1 81.5,197.7 82.0,184.7 82.5,197.9 83.0,186.9 83.5,199.6 84.0,188.0 84.5,201.0 85.0,187.8 85.5,202.5 86.0,186.2 86.5,203.0 87.0,188.5 87.5,202.5 88.0,188.7 88.5,202.1 89.0,188.3 89.5,202.0 90.0,189.5 90.5,202.2 91.0,188.9 91.5,202.8 92.0,188.1 92.5,203.3 93.0,187.6 93.5,202.3 94.0,187.5 94.5,202.4 95.0,188.0 95.5,203.0 96.0,188.9 96.5,202.5 97.0,189.7 97.5,201.5 98.0,190.4 98.5,200.8 99.0,191.5 99.5,201.6 100.0,192.2 100.5,201.3 101.0,192.8 101.5,202.7 102.0,190.0 102.5,202.0 103.0,190.9 103.5,202.5 104.0,192.3 104.5,202.0 105.0,191.2 105.5,201.9 106.0,190.9 106.5,203.3 107.0,191.1 107.5,202.2 108.0,191.8 108.5,201.2 109.0,191.7 109.5,201.5 110.0,191.3 110.5,202.5 111.0,190.3 111.5,202.9 112.0,191.8 112.5,203.9 113.0,192.2 113.5,203.4 114.0,192.4 114.5,201.7 115.0,191.3 115.5,201.7 116.0,191.4 116.5,203.1 117.0,191.5 117.5,202.6 118.0,190.5 118.5,201.7 119.0,192.1 119.5,202.9 120.0,192.9 120.5,203.3 121.0,191.9 121.5,202.1 122.0,191.4 122.5,203.1 123.0,191.5 123.5,201.9 124.0,192.3 124.5,201.9 125.0,191.7 125.5,202.8 126.0,191.3 126.5,201.9 127.0,191.4 127.5,203.2 128.0,191.0 128.5,205.5 129.0,193.3 129.5,203.3 130.0,193.8 130.5,202.8 131.0,192.0 131.5,203.5 132.0,191.3 132.5,202.7 133.0,191.4 133.5,201.6 134.0,190.0 134.5,201.9 135.0,191.0 135.5,201.6 136.0,191.9 136.5,203.1 137.0,190.1 137.5,202.3 138.0,192.0 138.5,202.1 139.0,192.5 139.5,201.7 140.0,193.0 140.5,202.2 141.0,192.2 141.5,202.7 142.0,192.4 142.5,202.3 143.0,192.9 143.5,203.4 144.0,192.2 144.5,203.6 145.0,191.5 145.5,201.6 146.0,191.8 146.5,201.3 147.0,193.1 147.5,200.9 148.0,193.7 148.5,201.3 149.0,192.9 149.5,203.2 150.0,191.6 150.5,203.0 151.0,190.6 151.5,202.2 152.0,190.9 152.5,202.9 153.0,190.6 153.5,202.8 154.0,190.2 154.5,201.9 155.0,191.4 155.5,201.7 156.0,192.3 156.5,202.1 157.0,191.7 157.5,202.7 158.0,191.1 158.5,202.5 159.0,190.5 159.5,202.9 160.0,190.6 160.5,204.3 161.0,190.5 161.5,202.0 162.0,190.7 162.5,202.7 163.0,192.3 163.5,202.7 164.0,192.1 164.5,202.6 165.0,191.7 165.5,202.8 166.0,192.2 166.5,202.2 167.0,191.5 167.5,202.6 168.0,191.3 168.5,203.2 169.0,192.2 169.5,203.5 170.0,192.0 170.5,204.9 171.0,192.0 171.5,202.9 172.0,192.9 172.5,202.5 173.0,192.3 173.5,202.5 174.0,192.3 174.5,202.0 175.0,191.5 175.5,203.1 176.0,191.9 176.5,202.8 177.0,192.9 177.5,202.1 178.0,192.4 178.5,201.9 179.0,191.9 179.5,202.6 180.0,192.7 180.5,201.5 181.0,193.0 181.5,201.4 182.0,192.0 182.5,202.6 183.0,190.9 183.5,202.6 184.0,191.4 184.5,203.6 185.0,191.8 185.5,203.2 186.0,192.3 186.5,204.8 187.0,192.6 187.5,202.7 188.0,192.1 188.5,200.6 189.0,191.3 189.5,202.2 190.0,191.5 190.5,202.0 191.0,191.0 191.5,201.6 192.0,192.4 192.5,203.0 193.0,192.4 193.5,202.4 194.0,191.5 194.5,202.0 195.0,191.4 195.5,203.3 196.0,190.5 196.5,203.4 197.0,190.4 197.5,204.0 198.0,192.3 198.5,204.3 199.0,192.5 199.5,202.0 200.0,193.2 200.5,201.1 201.0,192.5 201.5,202.8 202.0,192.2 202.5,203.0 203.0,193.0 203.5,204.4 204.0,192.8 204.5,204.5 205.0,192.1 205.5,202.4 206.0,192.5 206.5,201.6 207.0,193.3 207.5,203.6 208.0,193.6 208.5,202.8 209.0,191.7 209.5,202.4 210.0,191.4 210.5,202.4 211.0,191.8 211.5,202.3 212.0,191.3 212.5,202.2 213.0,192.4 213.5,203.1 214.0,191.4 214.5,203.4 215.0,191.5 215.5,202.6 216.0,191.5 216.5,201.4 217.0,190.6 217.5,201.9 218.0,190.8 218.5,202.6 219.0,191.8 219.5,203.1 220.0,192.2 220.5,203.3 221.0,191.6 221.5,204.2 222.0,191.0 222.5,201.7 223.0,191.7 223.5,202.3 224.0,193.8 224.5,203.6 225.0,193.1 225.5,203.1 226.0,191.7 226.5,201.9 227.0,192.9 227.5,202.3 228.0,193.4 228.5,202.1 229.0,192.4 229.5,202.8 230.0,189.8 230.5,202.2 231.0,190.8 231.5,202.4 232.0,190.5 232.5,203.2 233.0,192.4 233.5,202.6 234.0,191.9 234.5,202.8 235.0,192.0 235.5,201.9 236.0,192.7 236.5,201.3 237.0,192.0 237.5,201.7 238.0,192.4 238.5,203.3 239.0,191.9 239.5,203.2 240.0,190.2 240.5,202.3 241.0,189.4 241.5,202.6 242.0,190.7 242.5,203.7 243.0,193.3 243.5,202.5 244.0,194.8 244.5,201.7 245.0,193.5 245.5,200.7 246.0,192.7 246.5,200.7 247.0,192.6 247.5,200.6 248.0,191.6 248.5,201.9 249.0,192.2 249.5,202.7 250.0,192.5 250.5,203.5 251.0,192.4 251.5,203.5 252.0,192.8 252.5,204.0 253.0,193.3 253.5,201.3 254.0,191.8 254.5,201.2 255.0,191.4 255.5,200.7 256.0,191.4 256.5,201.4 257.0,191.9 257.5,202.7 258.0,191.5 258.5,202.4 259.0,189.3 259.5,200.3 260.0,192.0 260.5,202.2 261.0,193.6 261.5,203.6 262.0,193.0 262.5,203.8 263.0,191.7 263.5,203.1 264.0,190.7 264.5,203.5 265.0,192.0 265.5,203.4 266.0,191.9 266.5,203.9 267.0,191.0 267.5,203.3 268.0,192.0 268.5,202.4 269.0,191.3 269.5,201.5 270.0,190.7 270.5,203.0 271.0,191.0 271.5,205.6 272.0,190.2 272.5,206.4 273.0,190.0 273.5,205.0 274.0,190.0 274.5,204.2 275.0,191.0 275.5,206.0 276.0,190.8 276.5,204.6 277.0,187.5 277.5,204.1 278.0,189.1 278.5,204.6 279.0,191.5 279.5,204.6 280.0,191.5 280.5,204.8 281.0,192.1 281.5,204.4 282.0,191.6 282.5,204.9 283.0,189.1 283.5,204.9 284.0,189.1 284.5,204.9 285.0,191.0 285.5,206.2 286.0,190.4 286.5,205.6 287.0,190.9 287.5,205.2 288.0,189.7 288.5,204.5 289.0,190.1 289.5,204.4 290.0,191.6 290.5,205.4 291.0,192.8 291.5,205.3 292.0,192.3 292.5,204.9 293.0,190.9 293.5,203.8 294.0,189.7 294.5,205.2 295.0,189.3 295.5,206.8 296.0,190.2 296.5,206.8 297.0,190.4 297.5,204.9 298.0,191.2 298.5,205.7 299.0,190.5 299.5,206.3 300.0,190.3 300.5,205.5 301.0,191.3 301.5,205.9 302.0,191.4 302.5,204.5 303.0,189.1 303.5,204.5 304.0,189.9 304.5,204.7 305.0,190.8 305.5,205.9 306.0,191.1 306.5,205.7 307.0,192.0 307.5,206.2 308.0,192.7 308.5,206.3 309.0,191.5 309.5,208.4 310.0,192.2 310.5,208.3 311.0,193.2 311.5,205.5 312.0,197.1 312.5,204.5 313.0,195.7 313.5,204.8 314.0,197.3 314.5,206.3 315.0,198.1 315.5,206.8 316.0,199.9 316.5,206.6 317.0,201.3 317.5,205.7 318.0,203.7 318.5,207.3 319.0,203.9 319.5,208.7 320.0,203.5 320.5,210.4 321.0,206.3 321.5,214.0 322.0,210.4 322.5,216.8 323.0,212.3 323.5,219.1 324.0,214.3 324.5,223.3 325.0,217.0 325.5,225.6 326.0,219.3 326.5,227.4 327.0,219.0 327.5,223.5 328.0,214.5 328.5,223.6 329.0,208.7 329.5,218.3 330.0,205.1 330.5,213.4 331.0,201.3 331.5,215.1 332.0,198.2 332.5,211.8 333.0,196.4 333.5,207.9 334.0,194.4 334.5,206.4 335.0,194.2 335.5,204.7 336.0,192.8 336.5,204.4 337.0,194.0 337.5,207.1 338.0,194.8 338.5,206.7 339.0,193.4 339.5,204.8 340.0,193.6 340.5,204.4 341.0,192.8 341.5,204.3 342.0,192.2 342.5,203.8 343.0,193.6 343.5,203.7 344.0,192.5 344.5,204.8 345.0,193.5 345.5,203.4 346.0,191.9 346.5,203.5 347.0,193.3 347.5,202.4 348.0,195.1 348.5,202.6 349.0,194.6 349.5,202.6 350.0,192.0 350.5,202.9 351.0,192.3 351.5,203.1 352.0,192.8 352.5,202.4 353.0,193.8 353.5,201.9 354.0,191.7 354.5,201.5 355.0,193.7 355.5,202.2 356.0,193.6 356.5,202.4 357.0,193.3 357.5,202.4 358.0,192.2 358.5,201.1 359.0,192.1 359.5,201.7 360.0,193.2 360.5,202.8 361.0,193.2 361.5,202.0 362.0,191.5 362.5,201.5 363.0,192.6 363.5,200.8 364.0,193.9 364.5,200.8 365.0,194.5 365.5,201.7 366.0,193.5 366.5,202.4 367.0,192.2 367.5,201.7 368.0,192.0 368.5,201.8 369.0,192.1 369.5,201.5 370.0,192.4 370.5,202.0 371.0,191.5 371.5,201.7 372.0,190.6 372.5,201.7 373.0,191.1 373.5,201.6 374.0,191.7 374.5,201.8 375.0,191.5 375.5,203.0 376.0,191.0 376.5,201.8 377.0,191.4 377.5,201.2 378.0,193.4 378.5,201.7 379.0,193.7 379.5,203.9 380.0,191.7 380.5,202.8 381.0,190.4 381.5,202.3 382.0,190.5 382.5,201.7 383.0,190.4 383.5,202.5 384.0,191.7 384.5,202.4 385.0,192.6 385.5,203.4 386.0,192.2 386.5,201.7 387.0,191.7 387.5,202.4 388.0,190.7 388.5,200.9 389.0,191.7 389.5,199.8 390.0,193.1 390.5,201.1 391.0,192.7 391.5,202.9 392.0,190.5 392.5,201.7 393.0,191.5 393.5,201.1 394.0,191.3 394.5,201.3 395.0,193.5 395.5,200.3 396.0,192.8 396.5,201.9 397.0,192.7 397.5,202.4 398.0,193.2 398.5,203.1 399.0,193.0 399.5,203.0 400.0,193.3 400.5,204.3 401.0,192.6 401.5,201.1 402.0,192.4 402.5,201.5 403.0,191.4 403.5,202.7 404.0,190.3 404.5,202.5 405.0,194.1 405.5,201.7 406.0,194.2 406.5,201.8 407.0,192.3 407.5,202.7 408.0,191.7 408.5,202.8 409.0,191.7 409.5,202.3 410.0,191.6 410.5,202.9 411.0,190.2 411.5,203.2 412.0,191.8 412.5,201.8 413.0,192.9 413.5,200.6 414.0,194.2 414.5,200.9 415.0,193.4 415.5,202.2 416.0,192.1 416.5,202.0 417.0,191.0 417.5,201.3 418.0,191.0 418.5,202.1 419.0,192.0 419.5,199.8 420.0,191.9 420.5,200.0 421.0,191.4 421.5,202.9 422.0,193.1 422.5,203.1 423.0,192.5 423.5,201.8 424.0,192.0 424.5,201.3 425.0,192.1 425.5,201.8 426.0,191.4 426.5,202.3 427.0,193.1 427.5,202.5 428.0,191.4 428.5,200.9 429.0,190.6 429.5,201.0 430.0,191.2 430.5,201.5 431.0,189.8 431.5,203.8 432.0,191.2 432.5,201.7 433.0,193.3 433.5,200.9 434.0,191.7 434.5,200.9 435.0,191.3 435.5,202.6 436.0,189.8 436.5,202.0 437.0,190.9 437.5,201.8 438.0,190.0 438.5,202.4 439.0,189.9 439.5,202.9 440.0,192.0 440.5,205.3 441.0,190.1 441.5,202.0 442.0,190.7 442.5,201.3 443.0,192.6 443.5,201.1 444.0,191.0 444.5,202.1 445.0,192.8 445.5,202.1 446.0,192.9 446.5,201.9 447.0,191.2 447.5,203.0 448.0,190.6 448.5,202.6 449.0,191.8 449.5,201.0 450.0,193.6 450.5,201.0 451.0,193.0 451.5,201.1 452.0,192.8 452.5,201.9 453.0,191.7 453.5,202.3 454.0,191.1 454.5,202.3 455.0,191.9 455.5,202.0 456.0,192.3 456.5,201.3 457.0,191.5 457.5,203.5 458.0,191.2 458.5,204.5 459.0,189.8 459.5,202.1 460.0,191.6 460.5,202.9 461.0,192.8 461.5,201.7 462.0,191.4 462.5,203.4 463.0,192.8 463.5,202.7 464.0,191.3 464.5,202.3 465.0,190.8 465.5,202.4 466.0,191.5 466.5,204.6 467.0,190.6 467.5,202.7 468.0,191.2 468.5,202.7 469.0,190.7 469.5,203.6 470.0,188.5 470.5,202.6 471.0,186.8 471.5,201.2 472.0,186.5 472.5,202.4 473.0,186.3 473.5,203.5 474.0,185.9 474.5,202.8 475.0,187.0 475.5,202.1 476.0,189.0 476.5,203.1 477.0,188.4 477.5,202.9 478.0,189.9 478.5,201.7 479.0,191.1 479.5,201.5 480.0,190.4 480.5,201.1 481.0,189.6 481.5,200.7 482.0,188.2 482.5,200.8 483.0,188.7 483.5,198.2 484.0,188.1 484.5,198.3 485.0,185.8 485.5,197.3 486.0,184.7 486.5,197.2 487.0,185.0 487.5,195.8 488.0,182.9 488.5,193.6 489.0,180.9 489.5,193.0 490.0,181.4 490.5,191.6 491.0,181.5 491.5,192.4 492.0,181.7 492.5,190.4 493.0,180.7 493.5,188.6 494.0,182.6 494.5,188.9 495.0,184.3 495.5,190.6 496.0,182.6 496.5,189.5 497.0,182.8 497.5,192.3 498.0,181.5 498.5,196.1 499.0,183.7 499.5,195.6 500.0,186.1 500.5,197.0 501.0,186.0 501.5,197.9 502.0,187.1 502.5,200.2 503.0,189.0 503.5,202.3 504.0,192.4 504.5,201.4 505.0,191.8 505.5,200.5 506.0,190.8 506.5,201.0 507.0,190.8 507.5,201.3 508.0,189.9 508.5,202.4 509.0,189.3 509.5,202.7 510.0,189.4 510.5,204.1 511.0,190.3 511.5,206.8 512.0,191.3 512.5,206.8 513.0,192.2 513.5,202.4 514.0,191.1 514.5,206.7 515.0,190.7 515.5,206.7 516.0,190.4 516.5,203.2 517.0,191.2 517.5,203.6 518.0,192.0 518.5,202.5 519.0,192.8 519.5,201.5 520.0,193.1 520.5,202.0 521.0,191.4 521.5,201.2 522.0,191.1 522.5,201.6 523.0,191.2 523.5,201.7 524.0,189.7 524.5,202.4 525.0,190.0 525.5,203.7 526.0,190.6 526.5,202.5 527.0,190.1 527.5,202.6 528.0,190.8"/>
<!-- range dashed -->
<g stroke="#ff0000" stroke-width="3.4" stroke-dasharray="10.4 10.15" fill="none">
<line x1="63.9" y1="37.1" x2="528" y2="37.1"/>
<line x1="63.9" y1="356.6" x2="528" y2="356.6"/>
</g>
<text class="tick" text-anchor="end" x="56.9" y="20.0">0.4</text>
<text class="tick" text-anchor="end" x="56.9" y="65.8">0.3</text>
<text class="tick" text-anchor="end" x="56.9" y="111.5">0.2</text>
<text class="tick" text-anchor="end" x="56.9" y="157.2">0.1</text>
<text class="tick" text-anchor="end" x="56.9" y="203.0">0</text>
<text class="tick" text-anchor="end" x="56.9" y="248.8">-0.1</text>
<text class="tick" text-anchor="end" x="56.9" y="294.5">-0.2</text>
<text class="tick" text-anchor="end" x="56.9" y="340.2">-0.3</text>
<text class="tick" text-anchor="end" x="56.9" y="386.0">-0.4</text>
<text class="tick" text-anchor="middle" x="64.4" y="402.7">0</text>
<text class="tick" text-anchor="middle" x="219.2" y="402.7">500</text>
<text class="tick" text-anchor="middle" x="373.9" y="402.7">1000</text>
<text class="tick" text-anchor="middle" x="528.7" y="402.7">1500</text>
<text class="lab" text-anchor="middle" x="295.5" y="424.5">Time/s</text>
<text class="lab" style="font-size:18.45px" text-anchor="middle" transform="translate(21.9,197.5) rotate(-90)">Yaw rate(rad/s)</text>
<!-- legend -->
<rect x="328.6" y="46" width="191.8" height="75.4" fill="#ffffff" stroke="#1a1a1a" stroke-width="1.8"/>
<line x1="342.3" y1="56.8" x2="385.3" y2="56.8" stroke="#000000" stroke-width="3"/>
<line x1="342.3" y1="75" x2="385.3" y2="75" stroke="#00ff00" stroke-width="3"/>
<line x1="342.3" y1="93.2" x2="385.3" y2="93.2" stroke="#0000ff" stroke-width="3"/>
<line x1="342.3" y1="111.4" x2="385.3" y2="111.4" stroke="#ff0000" stroke-width="3.4" stroke-dasharray="10.4 10.15"/>
<text class="leg" x="388.9" y="61.6">Yaw rate of UAV1</text>
<text class="leg" x="388.9" y="79.8">Yaw rate of UAV2</text>
<text class="leg" x="388.9" y="98">Yaw rate of UAV3</text>
<text class="leg" x="388.9" y="116.2">Range of yaw rate</text>
</svg>
</body></html>
